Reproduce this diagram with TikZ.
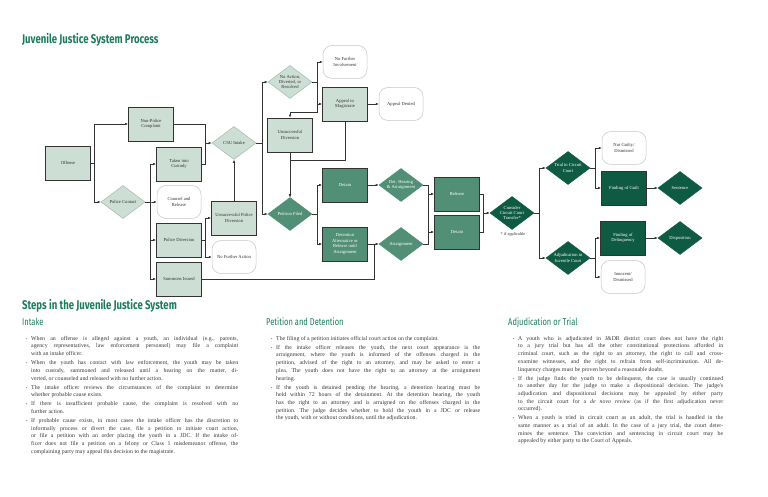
\documentclass[tikz,border=0pt]{standalone}
\usepackage{fontspec}
\usepackage{tikz}
\usetikzlibrary{arrows.meta,positioning,shapes.geometric,calc}
\newfontfamily\headfont[FakeStretch=0.76]{Fira Sans}
\newfontfamily\bodyfont{Liberation Serif}
\definecolor{jjgreen}{HTML}{1C7C5C}
\definecolor{palegreen}{HTML}{CDDED5}
\definecolor{paleline}{HTML}{A7C1B4}
\definecolor{midgreen}{HTML}{528F77}
\definecolor{darkgreen}{HTML}{0F5A43}
\definecolor{linegray}{HTML}{333333}
\definecolor{bodygray}{HTML}{383838}
\newcommand{\boxfont}{\bodyfont\fontsize{4.6}{5.4}\selectfont}
\newcommand{\stepsfont}{\bodyfont\fontsize{5.85}{7.7}\selectfont\frenchspacing\setlength{\parskip}{1.3pt}\hyphenpenalty=10000\tolerance=9999}
\newcommand{\bul}{\par\noindent\hangindent=5pt\hangafter=1\makebox[5pt][l]{\fontsize{4}{4}\selectfont\textbullet}}

\begin{document}
\begin{tikzpicture}[x=1pt, y=-1pt,
    box/.style={rectangle, draw=linegray, line width=0.9pt, fill=palegreen, minimum width=45pt, minimum height=34pt, inner sep=1pt, align=center, font=\boxfont, text=linegray},
    midbox/.style={box, fill=midgreen, text=white},
    darkbox/.style={box, fill=darkgreen, text=white},
    choice/.style={diamond, aspect=1.33, draw=paleline, line width=0.6pt, fill=palegreen, minimum width=44pt, minimum height=33pt, inner sep=0pt, align=center, font=\boxfont, text=linegray},
    midchoice/.style={choice, draw=midgreen, fill=midgreen, text=white},
    darkchoice/.style={choice, draw=darkgreen, fill=darkgreen, text=white},
    endbox/.style={rectangle, rounded corners=9pt, draw=gray!45, line width=0.5pt, fill=white, minimum width=44pt, minimum height=33pt, align=center, font=\boxfont, text=linegray},
    arrow/.style={-{Latex[length=3pt,width=2.6pt]}, line width=0.8pt, linegray},
    link/.style={line width=0.8pt, linegray},
    heading/.style={inner sep=0pt, anchor=base west, text=jjgreen},
    steps/.style={inner sep=0pt, anchor=north west, align=justify, font=\stepsfont, text=bodygray}
]
    \useasboundingbox (0,0) rectangle (768,497);

    % Headings
    \node[heading, font={\headfont\bfseries\fontsize{12.6}{14}\selectfont}] (title) at (22,44) {Juvenile Justice System Process};
    \node[heading, font={\headfont\bfseries\fontsize{12.6}{14}\selectfont}] (stepstitle) at (22,309) {Steps in the Juvenile Justice System};
    \node[heading, font={\headfont\fontsize{9.9}{11}\selectfont}] (intakehead) at (22,325) {Intake};
    \node[heading, font={\headfont\fontsize{9.9}{11}\selectfont}] (petitionhead) at (266,325) {Petition and Detention};
    \node[heading, font={\headfont\fontsize{9.9}{11}\selectfont}] (trialhead) at (508,325) {Adjudication or Trial};

    % Intake nodes
    \node[box] (offense) at (68,163) {Offense};
    \node[box] (npc) at (151,124) {Non-Police\\Complaint};
    \node[choice] (police) at (123,202) {Police Contact};
    \node[box] (custody) at (179,164) {Taken into\\Custody};
    \node[endbox] (counsel) at (179,202) {Counsel and\\Release};
    \node[box] (pdiv) at (179,240) {Police Diversion};
    \node[box] (summons) at (179,279) {Summons Issued};
    \node[box] (upd) at (234,218) {Unsuccessful Police\\Diversion};
    \node[endbox] (nfa) at (234,257) {No Further Action};
    \node[choice] (csu) at (234,143) {CSU Intake};
    \node[choice] (noact) at (290,82) {No Action,\\Diverted, or\\Resolved};
    \node[endbox] (nfi) at (345,62) {No Further\\Involvement};
    \node[box] (appeal) at (345,104) {Appeal to\\Magistrate};
    \node[endbox] (denied) at (401,104) {Appeal Denied};
    \node[box] (udiv) at (290,135) {Unsuccessful\\Diversion};

    % Petition and detention nodes
    \node[midchoice] (petition) at (290,214) {Petition Filed};
    \node[midbox] (detain1) at (345,185) {Detain};
    \node[midbox] (detalt) at (345,244) {Detention\\Alternative or\\Release until\\Arraignment};
    \node[midchoice] (dethear) at (401,185) {Det. Hearing\\\& Arraignment};
    \node[midchoice] (arraign) at (401,244) {Arraignment};
    \node[midbox] (release) at (457,194) {Release};
    \node[midbox] (detain2) at (457,232) {Detain};

    % Adjudication nodes
    \node[darkchoice] (transfer) at (512,213) {Consider\\Circuit Court\\Transfer*};
    \node[font=\bodyfont\fontsize{4.3}{5}\selectfont, text=linegray] (note) at (513,234) {* if applicable};
    \node[darkchoice] (trial) at (568,168) {Trial in Circuit\\Court};
    \node[darkchoice] (adjud) at (568,258) {Adjudication in\\Juvenile Court};
    \node[endbox] (notguilty) at (624,148) {Not Guilty/\\Dismissed};
    \node[darkbox] (guilt) at (624,188) {Finding of Guilt};
    \node[darkchoice] (sentence) at (680,188) {Sentence};
    \node[darkbox] (delinq) at (623,238) {Finding of\\Delinquency};
    \node[darkchoice] (disposition) at (680,238) {Disposition};
    \node[endbox] (innocent) at (623,277) {Innocent/\\Dismissed};

    % Arrows
    \draw[arrow] (offense.east) -- ++(3,0) |- (npc);
    \draw[arrow] (offense.east) -- ++(3,0) |- (police);
    \foreach \n in {custody,counsel,pdiv,summons}
        \draw[arrow] (police.east) -- ++(5,0) |- (\n);
    \coordinate (csujoin) at ($(csu.west)+(-6,0)$);
    \draw[arrow] (npc.east) -| (csujoin) -- (csu.west);
    \draw[link] (custody.east) -| (csujoin);
    \draw[arrow] (pdiv.east) -- ++(3,0) |- (upd);
    \draw[arrow] (pdiv.east) -- ++(3,0) |- (nfa);
    \draw[arrow] (upd) -- (csu);
    \draw[arrow] (csu.east) -- ++(6,0) |- (noact);
    \draw[arrow] (csu.east) -- ++(6,0) |- (petition);
    \draw[arrow] (noact.east) -- ++(5,0) |- (nfi);
    \draw[arrow] (noact.east) -- ++(5,0) |- (appeal);
    \draw[arrow] (noact.east) -- ++(5,0) |- ($(udiv.north)+(0,-5)$) -- (udiv.north);
    \draw[arrow] (appeal) -- (denied);
    \draw[arrow] (appeal.south) |- ($(udiv.south)+(0,8)$) -- (petition.north);
    \draw[arrow] (udiv) -- (petition);
    \draw[arrow] (petition.east) -- ++(5,0) |- (detain1);
    \draw[arrow] (petition.east) -- ++(5,0) |- (detalt);
    \draw[arrow] (detain1) -- (dethear);
    \draw[arrow] (detalt) -- (arraign);
    \draw[link] (summons.east) -| ($(detalt.east)+(6,0)$);
    \draw[arrow] (dethear.east) -- ++(5,0) |- (release);
    \draw[arrow] (dethear.east) -- ++(5,0) |- (detain2);
    \draw[link] (arraign.east) -| ($(dethear.east)+(5,0)$);
    \coordinate (trjoin) at ($(transfer.west)+(-6,0)$);
    \draw[link] (release.east) -| (trjoin);
    \draw[arrow] (detain2.east) -| (trjoin) -- (transfer.west);
    \draw[arrow] (transfer.east) -- ++(5,0) |- (trial);
    \draw[arrow] (transfer.east) -- ++(5,0) |- (adjud);
    \draw[arrow] (trial.east) -- ++(5,0) |- (notguilty);
    \draw[arrow] (trial.east) -- ++(5,0) |- (guilt);
    \draw[arrow] (guilt) -- (sentence);
    \draw[arrow] (adjud.east) -- ++(5,0) |- (delinq);
    \draw[arrow] (adjud.east) -- ++(5,0) |- (innocent);
    \draw[arrow] (delinq) -- (disposition);

    % Steps text
    \node[steps, text width=212pt] (intaketext) at (26,331) {%
        \bul When an offense is alleged against a youth, an individual (e.g., parents,\linebreak agency representatives, law enforcement personnel) may file a complaint\linebreak with an intake officer.
        \bul When the youth has contact with law enforcement, the youth may be taken\linebreak into custody, summoned and released until a hearing on the matter, di-\linebreak verted, or counseled and released with no further action.
        \bul The intake officer reviews the circumstances of the complaint to determine\linebreak whether probable cause exists.
        \bul If there is insufficient probable cause, the complaint is resolved with no\linebreak further action.
        \bul If probable cause exists, in most cases the intake officer has the discretion to\linebreak informally process or divert the case, file a petition to initiate court action,\linebreak or file a petition with an order placing the youth in a JDC. If the intake of-\linebreak ficer does not file a petition on a felony or Class 1 misdemeanor offense, the\linebreak complaining party may appeal this decision to the magistrate.\par};
    \node[steps, text width=209pt] (petitiontext) at (271,331) {%
        \bul The filing of a petition initiates official court action on the complaint.
        \bul If the intake officer releases the youth, the next court appearance is the\linebreak arraignment, where the youth is informed of the offenses charged in the\linebreak petition, advised of the right to an attorney, and may be asked to enter a\linebreak plea. The youth does not have the right to an attorney at the arraignment\linebreak hearing.
        \bul If the youth is detained pending the hearing, a detention hearing must be\linebreak held within 72 hours of the detainment. At the detention hearing, the youth\linebreak has the right to an attorney and is arraigned on the offenses charged in the\linebreak petition. The judge decides whether to hold the youth in a JDC or release\linebreak the youth, with or without conditions, until the adjudication.\par};
    \node[steps, text width=210pt] (trialtext) at (513,331) {%
        \bul A youth who is adjudicated in J\&DR district court does not have the right\linebreak to a jury trial but has all the other constitutional protections afforded in\linebreak criminal court, such as the right to an attorney, the right to call and cross-\linebreak examine witnesses, and the right to refrain from self-incrimination. All de-\linebreak linquency charges must be proven beyond a reasonable doubt.
        \bul If the judge finds the youth to be delinquent, the case is usually continued\linebreak to another day for the judge to make a dispositional decision. The judge's\linebreak adjudication and dispositional decisions may be appealed by either party\linebreak to the circuit court for a \emph{de novo review} (as if the first adjudication never\linebreak occurred).
        \bul When a youth is tried in circuit court as an adult, the trial is handled in the\linebreak same manner as a trial of an adult. In the case of a jury trial, the court deter-\linebreak mines the sentence. The conviction and sentencing in circuit court may be\linebreak appealed by either party to the Court of Appeals.\par};
\end{tikzpicture}
\end{document}
